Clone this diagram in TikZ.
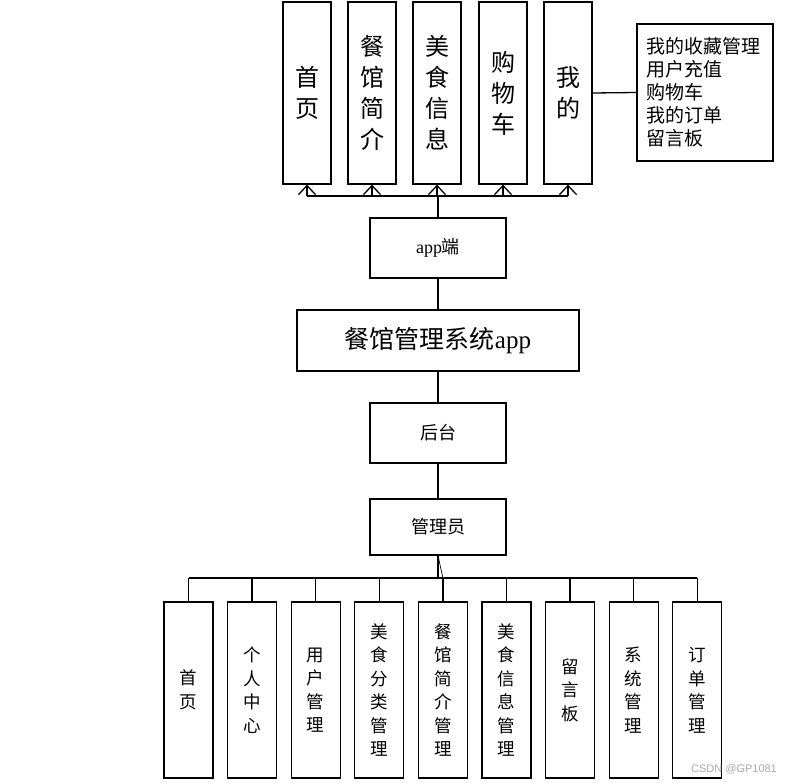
\documentclass[tikz,border=0pt]{standalone}
\usepackage{fontspec}
\setmainfont{Liberation Serif}
\newfontfamily\cjk{Noto Sans CJK SC}
\newfontfamily\marksans{Liberation Sans}
\usetikzlibrary{arrows.meta}
\definecolor{marktext}{RGB}{170, 170, 170}
\tikzset{
  box/.style={draw, line width=1.3pt, inner sep=0pt, align=center, font=\cjk},
  upbox/.style={box, minimum width=48pt, minimum height=182pt, font=\cjk\fontsize{24}{31}\selectfont},
  lowbox/.style={box, minimum width=49pt, minimum height=176pt, font=\cjk\fontsize{17.5}{23.5}\selectfont},
  midbox/.style={box, minimum width=136pt, minimum height=60pt, font=\cjk\fontsize{18}{20}\selectfont},
  link/.style={line width=1.3pt},
  uparrow/.style={link, -{Straight Barb[length=9pt,width=17pt]}}
}

\begin{document}
\begin{tikzpicture}[x=1pt, y=-1pt]
      \useasboundingbox (0,0) rectangle (793,784);
      % App side: top row of pages
      \foreach \x/\txt [count=\i] in {
        307/{首\\页},
        372/{餐\\馆\\简\\介},
        437/{美\\食\\信\\息},
        503/{购\\物\\车},
        568/{我\\的}%
      }{
        \node[upbox] (t\i) at (\x, 93) {\txt};
      }
      \node[box, minimum width=136pt, minimum height=137pt, text width=118pt, align=left,
            font=\cjk\fontsize{19}{23}\selectfont] (mine) at (705, 92.5)
            {我的收藏管理\\用户充值\\购物车\\我的订单\\留言板};
      \draw[link] (t5.east) -- (mine.west);
      % Middle column
      \node[midbox] (app) at (438, 248) {{\rmfamily app}端};
      \node[midbox, minimum width=282pt, minimum height=61pt,
            font=\cjk\fontsize{25}{28}\selectfont] (sys) at (438, 340.5) {餐馆管理系统{\rmfamily app}};
      \node[midbox] (back) at (438, 433) {后台};
      \node[midbox, minimum height=56pt] (admin) at (438, 527) {管理员};
      \draw[link] (app) -- (sys);
      \draw[link] (sys) -- (back);
      \draw[link] (back) -- (admin);
      % Arrows up to the pages
      \coordinate (tbus) at (438, 196);
      \draw[link] (app.north) -- (tbus);
      \draw[link] (t1.south |- tbus) -- (t5.south |- tbus);
      \foreach \i in {1,...,5}{
        \draw[uparrow] (t\i.south |- tbus) -- (t\i.south);
      }
      % Admin side: bottom row of modules
      \foreach \txt [count=\i] in {
        {首\\页},
        {个\\人\\中\\心},
        {用\\户\\管\\理},
        {美\\食\\分\\类\\管\\理},
        {餐\\馆\\简\\介\\管\\理},
        {美\\食\\信\\息\\管\\理},
        {留\\言\\板},
        {系\\统\\管\\理},
        {订\\单\\管\\理}%
      }{
        \node[lowbox] (l\i) at ({188.5+63.6*(\i-1)}, 690) {\txt};
      }
      \coordinate (lbus) at (438, 578);
      \draw[link] (admin.south) -- (lbus);
      \draw[line width=0.7pt] (admin.south) -- (l5.north |- lbus);
      \draw[link] (l1.north |- lbus) -- (l9.north |- lbus);
      \foreach \i in {1,...,9}{
        \draw[link] (l\i.north |- lbus) -- (l\i.north);
      }
      \node[marktext, font=\marksans\fontsize{11}{13}\selectfont] (mark) at (734, 769) {CSDN @GP1081};
    \end{tikzpicture}
\end{document}
